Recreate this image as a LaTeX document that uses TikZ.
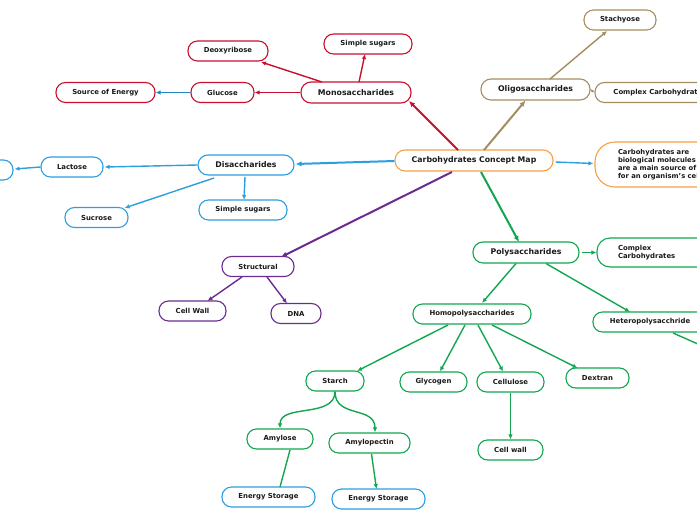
\documentclass[tikz,border=0pt]{standalone}
\usepackage{fontspec}
\setmainfont{DejaVu Sans}
\usetikzlibrary{arrows.meta,calc}
\definecolor{cred}{HTML}{C8102E}
\definecolor{ctan}{HTML}{A58D5F}
\definecolor{cblue}{HTML}{2B9FE0}
\definecolor{cdblue}{HTML}{1F86C6}
\definecolor{cpurple}{HTML}{6B2C91}
\definecolor{cgreen}{HTML}{12A650}
\definecolor{corange}{HTML}{F6A045}
\definecolor{ctext}{HTML}{1A1A1A}
\tikzset{
  box/.style={draw, rounded corners=9.5pt, line width=1.1pt, fill=white, minimum height=20pt, inner sep=0pt,
    font=\fontsize{6.9}{8.2}\selectfont\bfseries, text=ctext},
  big/.style={box, minimum height=21pt, rounded corners=10pt, font=\fontsize{7.8}{9}\selectfont\bfseries},
  con/.style={line width=1.4pt, -{Latex[length=5pt,width=4.5pt]}},
  plain/.style={line width=1.4pt},
  mainc/.style={con, line width=2pt, -{Latex[length=6pt,width=5.5pt]}},
}
\begin{document}
\begin{tikzpicture}[x=1pt,y=-1pt]
\useasboundingbox (0,0) rectangle (697,520);
\clip (0,0) rectangle (697,520);
% nodes
\node[big, draw=corange, minimum width=158pt] (cm) at (474,160.5) {Carbohydrates Concept Map};
\node[box, draw=corange, minimum width=150pt, minimum height=45pt, rounded corners=20pt, text width=104pt, align=left,
  font=\fontsize{6.8}{8.2}\selectfont\bfseries] (desc) at (670,164.5)
  {\mbox{Carbohydrates are}\\\mbox{biological molecules that}\\\mbox{are a main source of energy}\\\mbox{for an organism's cells}};
\node[big, draw=cred, minimum width=110pt] (mono) at (356,92.5) {Monosaccharides};
\node[box, draw=cred, minimum width=88pt] (simple1) at (368,44) {Simple sugars};
\node[box, draw=cred, minimum width=80pt] (deoxy) at (228,51) {Deoxyribose};
\node[box, draw=cred, minimum width=63pt] (glucose) at (222.5,92.5) {Glucose};
\node[box, draw=cred, minimum width=99pt] (source) at (105.5,92.5) {Source of Energy};
\node[big, draw=ctan, minimum width=109pt] (oligo) at (535.5,89.5) {Oligosaccharides};
\node[box, draw=ctan, minimum width=72pt] (stach) at (620,20) {Stachyose};
\node[box, draw=ctan, minimum width=130pt] (complex1) at (660,92.5) {Complex Carbohydrates};
\node[big, draw=cblue, minimum width=96pt, minimum height=20pt] (disacch) at (246,165) {Disaccharides};
\node[box, draw=cblue, minimum width=62pt] (lactose) at (72,167) {Lactose};
\node[box, draw=cblue, minimum width=60pt] (offleft) at (-17,170) {};
\node[box, draw=cblue, minimum width=63pt] (sucrose) at (96.5,217.5) {Sucrose};
\node[box, draw=cblue, minimum width=88pt] (simple2) at (243,210) {Simple sugars};
\node[box, draw=cpurple, minimum width=72pt] (struct) at (258,266.5) {Structural};
\node[box, draw=cpurple, minimum width=67pt] (cellwall) at (192.5,311) {Cell Wall};
\node[box, draw=cpurple, minimum width=50pt] (dna) at (296,313.5) {DNA};
\node[big, draw=cgreen, minimum width=106pt] (poly) at (526,252.5) {Polysaccharides};
\node[box, draw=cgreen, minimum width=126pt, minimum height=29pt, rounded corners=13pt, text width=84pt, align=left] (complex2) at (660,252.5) {Complex\\Carbohydrates};
\node[box, draw=cgreen, minimum width=118pt] (homo) at (472,314) {Homopolysaccharides};
\node[box, draw=cgreen, minimum width=114pt] (hetero) at (650,322) {Heteropolysacchride};
\node[box, draw=cgreen, minimum width=58pt] (starch) at (335,381) {Starch};
\node[box, draw=cgreen, minimum width=67pt] (glycogen) at (433.5,382) {Glycogen};
\node[box, draw=cgreen, minimum width=67pt] (cellulose) at (510.5,382) {Cellulose};
\node[box, draw=cgreen, minimum width=63pt] (dextran) at (597.5,378) {Dextran};
\node[box, draw=cgreen, minimum width=65pt] (cellwall2) at (510.5,450) {Cell wall};
\node[box, draw=cgreen, minimum width=66pt] (amylose) at (280,439) {Amylose};
\node[box, draw=cgreen, minimum width=81pt] (amylo) at (369.5,443) {Amylopectin};
\node[box, draw=cblue, minimum width=93pt] (es1) at (268.5,497) {Energy Storage};
\node[box, draw=cblue, minimum width=93pt] (es2) at (378.5,499) {Energy Storage};
\coordinate (offright) at (725,356);
% connectors from central
\draw[mainc, cred] ($(cm)+(-16,-10.5)$) -- ($(mono)+(53,8.5)$);
\draw[mainc, ctan] ($(cm)+(10,-10.5)$) -- ($(oligo)+(-10,11)$);
\draw[con, cblue] ($(cm.east)+(2,1.5)$) -- ($(desc.west)+(-1,-1)$);
\draw[mainc, cblue] ($(cm.west)+(0,0.5)$) -- ($(disacch.east)+(1,-1)$);
\draw[mainc, cpurple] ($(cm)+(-22,11.5)$) -- ($(struct)+(23,-9.5)$);
\draw[mainc, cgreen] ($(cm)+(7,11.5)$) -- ($(poly)+(-7,-10.5)$);
% monosaccharides
\draw[con, cred] ($(mono)+(3,-10.5)$) -- ($(simple1)+(-3,10)$);
\draw[con, cred] ($(mono)+(-34,-10.5)$) -- ($(deoxy)+(33,11)$);
\draw[con, cred] (mono.west) -- (glucose.east);
\draw[con, cdblue] (glucose.west) -- (source.east);
% oligosaccharides
\draw[con, ctan] ($(oligo)+(14.5,-10.5)$) -- ($(stach)+(-13,11)$);
\draw[con, ctan, line width=1pt, -{Latex[length=3pt,width=3pt]}] (oligo.east) -- ($(complex1.west)+(0,0)$);
% disaccharides
\draw[con, cblue] (disacch.west) -- ($(lactose.east)+(1,0)$);
\draw[con, cblue] (lactose.west) -- ($(offleft.east)+(1,-1)$);
\draw[con, cblue] ($(disacch)+(-32,13)$) -- ($(sucrose)+(28,-9.5)$);
\draw[con, cblue] ($(disacch)+(-1,12)$) -- ($(simple2)+(1,-10)$);
% structural
\draw[con, cpurple] ($(struct)+(-16,10.5)$) -- ($(cellwall)+(15,-10)$);
\draw[con, cpurple] ($(struct)+(9,10.5)$) -- ($(dna)+(-9,-10)$);
% polysaccharides
\draw[con, cgreen] ($(poly.east)+(2,0)$) -- (complex2.west);
\draw[con, cgreen] ($(poly)+(-10,11)$) -- ($(homo)+(10,-11)$);
\draw[con, cgreen] ($(poly)+(20,11)$) -- ($(hetero)+(-20,-10)$);
\draw[con, cgreen] ($(hetero)+(23,11)$) -- (offright);
\draw[con, cgreen] ($(homo)+(-24,11)$) -- ($(starch)+(22,-10)$);
\draw[con, cgreen] ($(homo)+(-7,11)$) -- ($(glycogen)+(6.5,-10.5)$);
\draw[con, cgreen] ($(homo)+(6,11)$) -- ($(cellulose)+(-7.5,-10.5)$);
\draw[con, cgreen] ($(homo)+(20,11)$) -- ($(dextran)+(-20,-10)$);
\draw[con, cgreen] (cellulose.south) -- (cellwall2.north);
\draw[con, cgreen] (starch.south) .. controls ($(starch.south)+(0,27)$) and ($(amylose.north)+(0,-25)$) .. (amylose.north);
\draw[con, cgreen] (starch.south) .. controls ($(starch.south)+(0,27)$) and ($(amylo.north)+(5.5,-27)$) .. ($(amylo.north)+(5.5,0)$);
\draw[plain, cgreen] ($(amylose)+(10,11)$) -- ($(es1)+(11.5,-10)$);
\draw[con, cgreen] ($(amylo)+(2,11)$) -- ($(es2)+(-2,-10)$);
\end{tikzpicture}
\end{document}
